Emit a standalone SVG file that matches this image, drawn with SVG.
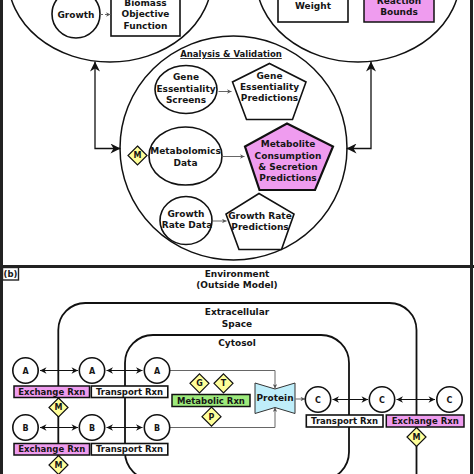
<svg xmlns="http://www.w3.org/2000/svg" width="474" height="474" viewBox="0 0 474 474">
<defs>
<style>
.t{font-family:"DejaVu Sans","Liberation Sans",sans-serif;font-weight:bold;font-size:9px;text-anchor:middle;fill:#151515}
.s{font-size:8.5px}
.l{font-size:8px}
.sh{fill:#fff;stroke:#111;stroke-width:1.6}
.box{stroke:#111;stroke-width:1.5}
.pink{fill:#ef9cef}
.dia{fill:#ffff99;stroke:#111;stroke-width:1.2}
.big{fill:none;stroke:#111;stroke-width:1.5}
.thin{fill:none;stroke:#666;stroke-width:1}
.comp{fill:none;stroke:#111;stroke-width:1.8}
</style>
<marker id="ab" viewBox="0 0 10 10" refX="10" refY="5" markerWidth="13" markerHeight="10" markerUnits="userSpaceOnUse" orient="auto-start-reverse"><path d="M0,0 L10,5 L0,10 L3,5 Z" fill="#111"/></marker>
<marker id="as" viewBox="0 0 10 10" refX="10" refY="5" markerWidth="8" markerHeight="6.5" markerUnits="userSpaceOnUse" orient="auto-start-reverse"><path d="M0,0 L10,5 L0,10 L3,5 Z" fill="#111"/></marker>
<marker id="at" viewBox="0 0 10 10" refX="10" refY="5" markerWidth="5" markerHeight="4.5" markerUnits="userSpaceOnUse" orient="auto"><path d="M0,0 L10,5 L0,10 L3,5 Z" fill="#555"/></marker>
<symbol id="dm" viewBox="-10 -10 20 20" overflow="visible"><path d="M0,-9.5 L9.5,0 L0,9.5 L-9.5,0 Z" class="dia"/></symbol>
</defs>
<rect width="474" height="474" fill="#fff"/>
<!-- frame -->
<g id="frame">
<line x1="1.5" y1="0" x2="1.5" y2="474" stroke="#222" stroke-width="3"/>
<line x1="471.5" y1="0" x2="471.5" y2="474" stroke="#222" stroke-width="3"/>
<line x1="0" y1="266.5" x2="474" y2="266.5" stroke="#222" stroke-width="3"/>
<rect x="2.5" y="267.5" width="16" height="12.5" fill="#fff" stroke="#222" stroke-width="1.4"/>
<text class="t s" x="10.5" y="277">(b)</text>
</g>
<!-- panel a -->
<g id="model-left">
<ellipse cx="110" cy="-22" rx="102" ry="84" class="big"/>
</g>
<g id="growth">
<circle cx="76" cy="14" r="24" class="sh"/>
<text class="t" x="76" y="17.5">Growth</text>
</g>
<g id="biomass">
<rect x="111" y="-10" width="69" height="46" class="sh"/>
<text class="t" x="145.5" y="5.5">Biomass</text>
<text class="t" x="145.5" y="17">Objective</text>
<text class="t" x="145.5" y="28.5">Function</text>
</g>
<g id="model-right">
<ellipse cx="358" cy="-22" rx="102" ry="84" class="big"/>
</g>
<g id="weight">
<rect x="278" y="-10" width="70" height="32" class="sh"/>
<text class="t" x="313" y="9">Weight</text>
</g>
<g id="bounds">
<rect x="364" y="-10" width="70" height="32" class="box pink"/>
<text class="t" x="399" y="3.5">Reaction</text>
<text class="t" x="399" y="15">Bounds</text>
</g>
<g id="analysis">
<ellipse cx="233.5" cy="148" rx="113.5" ry="112" class="big"/>
<text class="t s" x="231" y="57" text-decoration="underline">Analysis &amp; Validation</text>
</g>
<g id="gene-screens">
<ellipse cx="186" cy="89.5" rx="31" ry="24" class="sh"/>
<text class="t" x="186" y="80">Gene</text>
<text class="t" x="186" y="91.5">Essentiality</text>
<text class="t" x="186" y="103">Screens</text>
</g>
<g id="gene-pred">
<polygon points="269.5,63.5 306,82 292.5,119.5 246.5,119.5 232.5,82" class="sh"/>
<text class="t" x="269.5" y="78.5">Gene</text>
<text class="t" x="269.5" y="89.5">Essentiality</text>
<text class="t" x="269.5" y="100.5">Predictions</text>
</g>
<g id="m-top">
<use href="#dm" x="127.5" y="145.5" width="20" height="20"/>
<text class="t l" x="137.5" y="158">M</text>
</g>
<g id="metabolomics">
<ellipse cx="185.5" cy="156" rx="36.5" ry="29" class="sh"/>
<text class="t" x="185.5" y="154">Metabolomics</text>
<text class="t" x="185.5" y="165.5">Data</text>
</g>
<g id="met-pred">
<polygon points="287,123.5 333,146.5 315,190 259.5,190 245,146.5" fill="#ef9cef" stroke="#111" stroke-width="2.2"/>
<text class="t" x="288" y="147">Metabolite</text>
<text class="t" x="288" y="158.5">Consumption</text>
<text class="t" x="288" y="169.5">&amp; Secretion</text>
<text class="t" x="288" y="180.5">Predictions</text>
</g>
<g id="growth-data">
<ellipse cx="186" cy="220.5" rx="26" ry="24" class="sh"/>
<text class="t" x="186" y="217">Growth</text>
<text class="t" x="187" y="228">Rate Data</text>
</g>
<g id="growth-pred">
<polygon points="259,193.5 294,214 281.5,249.5 239,249.5 226,214" class="sh"/>
<text class="t" x="260" y="218.5">Growth Rate</text>
<text class="t" x="260" y="229.5">Predictions</text>
</g>
<!-- panel b -->
<g id="environment">
<text class="t" x="237" y="276.5">Environment</text>
<text class="t" x="237" y="288">(Outside Model)</text>
</g>
<g id="extracellular">
<rect x="58.3" y="303" width="358.2" height="260" rx="27" class="comp"/>
<text class="t" x="237" y="315">Extracellular</text>
<text class="t" x="237" y="326.5">Space</text>
</g>
<g id="cytosol">
<rect x="125" y="335" width="224" height="145" rx="28" class="comp"/>
<text class="t" x="237" y="345.5">Cytosol</text>
</g>
<!-- connectors -->
<g id="connectors">
<line x1="100" y1="14.5" x2="110.5" y2="14.5" class="thin" stroke-dasharray="3,2" marker-end="url(#at)"/>
<line x1="218.5" y1="91.5" x2="231.5" y2="91.5" class="thin" marker-end="url(#at)"/>
<line x1="222.5" y1="156.5" x2="244.5" y2="156.5" class="thin" marker-end="url(#at)"/>
<line x1="213" y1="221" x2="226.5" y2="221" class="thin" marker-end="url(#at)"/>
<polyline points="95,61.5 95,148.5 120.5,148.5" fill="none" stroke="#111" stroke-width="1.3" marker-start="url(#ab)" marker-end="url(#ab)"/>
<polyline points="371,61.5 371,148.5 346.5,148.5" fill="none" stroke="#111" stroke-width="1.3" marker-start="url(#ab)" marker-end="url(#ab)"/>
<line x1="40" y1="370.5" x2="78" y2="370.5" stroke="#111" stroke-width="1.2" marker-start="url(#as)" marker-end="url(#as)"/>
<line x1="106.5" y1="370.5" x2="142.5" y2="370.5" stroke="#111" stroke-width="1.2" marker-start="url(#as)" marker-end="url(#as)"/>
<line x1="40" y1="427.5" x2="78" y2="427.5" stroke="#111" stroke-width="1.2" marker-start="url(#as)" marker-end="url(#as)"/>
<line x1="106.5" y1="427.5" x2="142.5" y2="427.5" stroke="#111" stroke-width="1.2" marker-start="url(#as)" marker-end="url(#as)"/>
<line x1="332.5" y1="399.5" x2="368" y2="399.5" stroke="#111" stroke-width="1.2" marker-start="url(#as)" marker-end="url(#as)"/>
<line x1="396.5" y1="399.5" x2="435" y2="399.5" stroke="#111" stroke-width="1.2" marker-start="url(#as)" marker-end="url(#as)"/>
<polyline points="170,370.5 275,370.5 275,388.5" class="thin" stroke="#555" marker-end="url(#at)"/>
<polyline points="170,427.5 275,427.5 275,407.5" class="thin" stroke="#555" marker-end="url(#at)"/>
<line x1="295.5" y1="399" x2="305" y2="399" class="thin" stroke="#555" marker-end="url(#at)"/>
</g>
<g id="A1"><circle cx="25.5" cy="370.5" r="12.7" class="sh"/><text class="t l" x="25.5" y="373.5">A</text></g>
<g id="A2"><circle cx="92" cy="370.5" r="12.7" class="sh"/><text class="t l" x="92" y="373.5">A</text></g>
<g id="A3"><circle cx="157" cy="370.5" r="12.7" class="sh"/><text class="t l" x="157" y="373.5">A</text></g>
<g id="B1"><circle cx="25.5" cy="427.5" r="12.7" class="sh"/><text class="t l" x="25.5" y="430.5">B</text></g>
<g id="B2"><circle cx="92" cy="427.5" r="12.7" class="sh"/><text class="t l" x="92" y="430.5">B</text></g>
<g id="B3"><circle cx="157" cy="427.5" r="12.7" class="sh"/><text class="t l" x="157" y="430.5">B</text></g>
<g id="C1"><circle cx="318" cy="399.5" r="12.7" class="sh"/><text class="t l" x="318" y="402.5">C</text></g>
<g id="C2"><circle cx="382" cy="399.5" r="12.7" class="sh"/><text class="t l" x="382" y="402.5">C</text></g>
<g id="C3"><circle cx="449.5" cy="399.5" r="12.7" class="sh"/><text class="t l" x="449.5" y="402.5">C</text></g>
<g id="exA"><rect x="14" y="386" width="75.5" height="11.5" class="box pink"/><text class="t s" x="51.7" y="394.8">Exchange Rxn</text></g>
<g id="trA"><rect x="91.3" y="386" width="76.5" height="11.5" class="sh" stroke-width="1.5"/><text class="t s" x="129.5" y="394.8">Transport Rxn</text></g>
<g id="exB"><rect x="14" y="443.5" width="75.5" height="11.5" class="box pink"/><text class="t s" x="51.7" y="452.3">Exchange Rxn</text></g>
<g id="trB"><rect x="91.3" y="443.5" width="76.5" height="11.5" class="sh" stroke-width="1.5"/><text class="t s" x="129.5" y="452.3">Transport Rxn</text></g>
<g id="trC"><rect x="306.3" y="415" width="76.7" height="12" class="sh" stroke-width="1.5"/><text class="t s" x="344.6" y="424">Transport Rxn</text></g>
<g id="exC"><rect x="386.3" y="415" width="77.7" height="12" class="box pink"/><text class="t s" x="425.2" y="424">Exchange Rxn</text></g>
<g id="mA"><use href="#dm" x="48.5" y="397.5" width="20" height="20"/><text class="t l" x="58.5" y="410">M</text></g>
<g id="mB"><use href="#dm" x="48.5" y="455" width="20" height="20"/><text class="t l" x="58.5" y="467.5">M</text></g>
<g id="mC"><use href="#dm" x="406.5" y="427" width="20" height="20"/><text class="t l" x="416.5" y="439.5">M</text></g>
<g id="G"><use href="#dm" x="189.5" y="373.3" width="20" height="20"/><text class="t l" x="199.5" y="386.3">G</text></g>
<g id="T"><use href="#dm" x="213.5" y="373.3" width="20" height="20"/><text class="t l" x="223.5" y="386.3">T</text></g>
<g id="P"><use href="#dm" x="201.5" y="406.7" width="20" height="20"/><text class="t l" x="211.5" y="419.7">P</text></g>
<g id="metabolic"><rect x="172" y="394.5" width="78" height="12" fill="#9dea7c" stroke="#111" stroke-width="1.5"/><text class="t s" x="211" y="403.6">Metabolic Rxn</text></g>
<g id="protein"><polygon points="255,383 275,389 295,383 295,413.5 275,407.5 255,413.5" fill="#bfeefa" stroke="#333" stroke-width="1"/><text class="t" x="275" y="401">Protein</text></g>
</svg>
